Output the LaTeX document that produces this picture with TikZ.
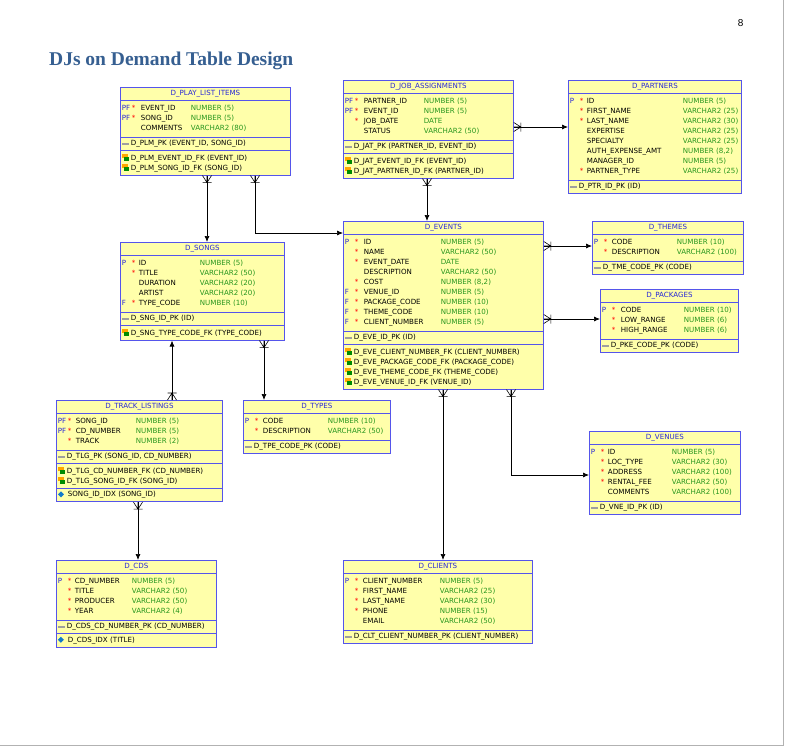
\documentclass[tikz,border=0pt]{standalone}
\usepackage{fontspec}
\setmainfont{DejaVu Sans}
\newfontfamily\titlefont{Liberation Serif}
\newfontfamily\numfont{Liberation Sans}
\usepackage{underscore}
\usetikzlibrary{shapes.multipart,arrows.meta,calc}
\definecolor{boxblue}{RGB}{85,85,235}
\definecolor{boxfill}{RGB}{255,255,170}
\definecolor{tyg}{RGB}{40,150,30}
\definecolor{ttlblue}{RGB}{40,40,215}
\definecolor{headblue}{RGB}{54,95,145}
\newcommand\ty[1]{\textcolor{tyg}{#1}}
\newcommand\fl[2]{\makebox[10pt][l]{\textcolor{ttlblue}{#1}}\textcolor{red}{#2}}
\newcommand\ttl[1]{\makebox[\linewidth][c]{\textcolor{ttlblue}{#1}}}
\newcommand\cols[2]{\begin{tabular}{@{}p{#1pt}@{}p{#2pt}@{}l@{}}}
\newcommand\ecols{\end{tabular}}
\newcommand\kic{\tikz[baseline=0pt]{\fill[gray!75] (0pt,0.5pt) rectangle (7pt,3pt);}\hspace{2pt}}
\newcommand\fkic{\tikz[baseline=0pt]{\fill[orange!70!yellow] (0pt,2.5pt) rectangle (6pt,6.5pt);\fill[green!55!black] (2pt,-1pt) rectangle (7pt,3pt);}\hspace{2pt}}
\newcommand\ixic{\tikz[baseline=0pt]{\fill[cyan!60!blue] (3pt,-0.5pt)--(6pt,2.5pt)--(3pt,5.5pt)--(0pt,2.5pt)--cycle;}\hspace{4pt}}
\tikzset{
  tbl/.style={rectangle split, rectangle split parts=#1, draw=boxblue, line width=0.8pt,
    fill=boxfill, anchor=north west, inner xsep=1.5pt, inner ysep=2.8pt,
    font=\fontsize{7.1}{10}\selectfont, align=left},
  conn/.style={line width=0.7pt},
  arr/.style={conn,-{Latex[length=6pt,width=5pt]}},
  crow/.pic={\draw[line width=0.6pt] (-4.5,0)--(0,7)--(4.5,0) (0,0)--(0,7) (-4.5,7)--(4.5,7);}
}
\begin{document}
\begin{tikzpicture}[x=1pt,y=-1pt]
\useasboundingbox (0,0) rectangle (796,747);
\fill[white] (0,0) rectangle (796,747);
\draw[gray!60] (783,0)--(783,745)--(0,745);
\node[anchor=east,font=\numfont\fontsize{10}{12}\selectfont] (pg) at (747,23) {8};
\node[anchor=west,font=\titlefont\bfseries\fontsize{19.5}{22}\selectfont,text=headblue,inner sep=0pt] (title) at (49,61) {DJs on Demand Table Design};

% tables
\node[tbl=4,text width=167pt] (pli) at (120,87) {\ttl{D_PLAY_LIST_ITEMS}
\nodepart{two}\cols{19}{50}\fl{PF}{*}&EVENT_ID&\ty{NUMBER (5)}\\ \fl{PF}{*}&SONG_ID&\ty{NUMBER (5)}\\ &COMMENTS&\ty{VARCHAR2 (80)}\ecols
\nodepart{three}\kic D_PLM_PK (EVENT_ID, SONG_ID)
\nodepart{four}\fkic D_PLM_EVENT_ID_FK (EVENT_ID)\\ \fkic D_PLM_SONG_ID_FK (SONG_ID)};

\node[tbl=4,text width=167pt] (ja) at (343,80) {\ttl{D_JOB_ASSIGNMENTS}
\nodepart{two}\cols{19}{60}\fl{PF}{*}&PARTNER_ID&\ty{NUMBER (5)}\\ \fl{PF}{*}&EVENT_ID&\ty{NUMBER (5)}\\ \fl{}{*}&JOB_DATE&\ty{DATE}\\ &STATUS&\ty{VARCHAR2 (50)}\ecols
\nodepart{three}\kic D_JAT_PK (PARTNER_ID, EVENT_ID)
\nodepart{four}\fkic D_JAT_EVENT_ID_FK (EVENT_ID)\\ \fkic D_JAT_PARTNER_ID_FK (PARTNER_ID)};

\node[tbl=3,text width=170pt] (ptr) at (568,80) {\ttl{D_PARTNERS}
\nodepart{two}\cols{17}{96}\fl{P}{*}&ID&\ty{NUMBER (5)}\\ \fl{}{*}&FIRST_NAME&\ty{VARCHAR2 (25)}\\ \fl{}{*}&LAST_NAME&\ty{VARCHAR2 (30)}\\ &EXPERTISE&\ty{VARCHAR2 (25)}\\ &SPECIALTY&\ty{VARCHAR2 (25)}\\ &AUTH_EXPENSE_AMT&\ty{NUMBER (8,2)}\\ &MANAGER_ID&\ty{NUMBER (5)}\\ \fl{}{*}&PARTNER_TYPE&\ty{VARCHAR2 (25)}\ecols
\nodepart{three}\kic D_PTR_ID_PK (ID)};

\node[tbl=4,text width=161pt] (sng) at (120,242) {\ttl{D_SONGS}
\nodepart{two}\cols{17}{61}\fl{P}{*}&ID&\ty{NUMBER (5)}\\ \fl{}{*}&TITLE&\ty{VARCHAR2 (50)}\\ &DURATION&\ty{VARCHAR2 (20)}\\ &ARTIST&\ty{VARCHAR2 (20)}\\ \fl{F}{*}&TYPE_CODE&\ty{NUMBER (10)}\ecols
\nodepart{three}\kic D_SNG_ID_PK (ID)
\nodepart{four}\fkic D_SNG_TYPE_CODE_FK (TYPE_CODE)};

\node[tbl=4,text width=197pt] (eve) at (343,221) {\ttl{D_EVENTS}
\nodepart{two}\cols{19}{77}\fl{P}{*}&ID&\ty{NUMBER (5)}\\ \fl{}{*}&NAME&\ty{VARCHAR2 (50)}\\ \fl{}{*}&EVENT_DATE&\ty{DATE}\\ &DESCRIPTION&\ty{VARCHAR2 (50)}\\ \fl{}{*}&COST&\ty{NUMBER (8,2)}\\ \fl{F}{*}&VENUE_ID&\ty{NUMBER (5)}\\ \fl{F}{*}&PACKAGE_CODE&\ty{NUMBER (10)}\\ \fl{F}{*}&THEME_CODE&\ty{NUMBER (10)}\\ \fl{F}{*}&CLIENT_NUMBER&\ty{NUMBER (5)}\ecols
\nodepart{three}\kic D_EVE_ID_PK (ID)
\nodepart{four}\fkic D_EVE_CLIENT_NUMBER_FK (CLIENT_NUMBER)\\ \fkic D_EVE_PACKAGE_CODE_FK (PACKAGE_CODE)\\ \fkic D_EVE_THEME_CODE_FK (THEME_CODE)\\ \fkic D_EVE_VENUE_ID_FK (VENUE_ID)};

\node[tbl=3,text width=148pt] (thm) at (592,221) {\ttl{D_THEMES}
\nodepart{two}\cols{18}{65}\fl{P}{*}&CODE&\ty{NUMBER (10)}\\ \fl{}{*}&DESCRIPTION&\ty{VARCHAR2 (100)}\ecols
\nodepart{three}\kic D_TME_CODE_PK (CODE)};

\node[tbl=3,text width=135pt] (pkg) at (600,289) {\ttl{D_PACKAGES}
\nodepart{two}\cols{19}{63}\fl{P}{*}&CODE&\ty{NUMBER (10)}\\ \fl{}{*}&LOW_RANGE&\ty{NUMBER (6)}\\ \fl{}{*}&HIGH_RANGE&\ty{NUMBER (6)}\ecols
\nodepart{three}\kic D_PKE_CODE_PK (CODE)};

\node[tbl=5,text width=163pt] (tlg) at (56,400) {\ttl{D_TRACK_LISTINGS}
\nodepart{two}\cols{18}{60}\fl{PF}{*}&SONG_ID&\ty{NUMBER (5)}\\ \fl{PF}{*}&CD_NUMBER&\ty{NUMBER (5)}\\ \fl{}{*}&TRACK&\ty{NUMBER (2)}\ecols
\nodepart{three}\kic D_TLG_PK (SONG_ID, CD_NUMBER)
\nodepart{four}\fkic D_TLG_CD_NUMBER_FK (CD_NUMBER)\\ \fkic D_TLG_SONG_ID_FK (SONG_ID)
\nodepart{five}\ixic SONG_ID_IDX (SONG_ID)};

\node[tbl=3,text width=144pt] (tpe) at (243,400) {\ttl{D_TYPES}
\nodepart{two}\cols{18}{65}\fl{P}{*}&CODE&\ty{NUMBER (10)}\\ \fl{}{*}&DESCRIPTION&\ty{VARCHAR2 (50)}\ecols
\nodepart{three}\kic D_TPE_CODE_PK (CODE)};

\node[tbl=3,text width=148pt] (vne) at (589,431) {\ttl{D_VENUES}
\nodepart{two}\cols{17}{64}\fl{P}{*}&ID&\ty{NUMBER (5)}\\ \fl{}{*}&LOC_TYPE&\ty{VARCHAR2 (30)}\\ \fl{}{*}&ADDRESS&\ty{VARCHAR2 (100)}\\ \fl{}{*}&RENTAL_FEE&\ty{VARCHAR2 (50)}\\ &COMMENTS&\ty{VARCHAR2 (100)}\ecols
\nodepart{three}\kic D_VNE_ID_PK (ID)};

\node[tbl=4,text width=157pt] (cds) at (56,560) {\ttl{D_CDS}
\nodepart{two}\cols{17}{57}\fl{P}{*}&CD_NUMBER&\ty{NUMBER (5)}\\ \fl{}{*}&TITLE&\ty{VARCHAR2 (50)}\\ \fl{}{*}&PRODUCER&\ty{VARCHAR2 (50)}\\ \fl{}{*}&YEAR&\ty{VARCHAR2 (4)}\ecols
\nodepart{three}\kic D_CDS_CD_NUMBER_PK (CD_NUMBER)
\nodepart{four}\ixic D_CDS_IDX (TITLE)};

\node[tbl=3,text width=186pt] (clt) at (343,560) {\ttl{D_CLIENTS}
\nodepart{two}\cols{18}{77}\fl{P}{*}&CLIENT_NUMBER&\ty{NUMBER (5)}\\ \fl{}{*}&FIRST_NAME&\ty{VARCHAR2 (25)}\\ \fl{}{*}&LAST_NAME&\ty{VARCHAR2 (30)}\\ \fl{}{*}&PHONE&\ty{NUMBER (15)}\\ &EMAIL&\ty{VARCHAR2 (50)}\ecols
\nodepart{three}\kic D_CLT_CLIENT_NUMBER_PK (CLIENT_NUMBER)};

% connectors
\coordinate (c1) at ([xshift=87pt]pli.south west);
\draw[arr] (c1) -- (c1 |- sng.north);
\pic at (c1) {crow};
\coordinate (c2) at ([xshift=135pt]pli.south west);
\coordinate (c2b) at (c2 |- 0,233);
\draw[arr] (c2) -- (c2b) -- (c2b -| eve.west);
\pic at (c2) {crow};
\coordinate (c3) at ([xshift=84pt]ja.south west);
\draw[arr] (c3) -- (c3 |- eve.north);
\pic at (c3) {crow};
\coordinate (c4) at (ja.east |- 0,127);
\draw[arr] (c4) -- (c4 -| ptr.west);
\pic[rotate=90] at (c4) {crow};
\coordinate (c5) at (eve.east |- 0,246);
\draw[arr] (c5) -- (c5 -| thm.west);
\pic[rotate=90] at (c5) {crow};
\coordinate (c6) at (eve.east |- 0,319);
\draw[arr] (c6) -- (c6 -| pkg.west);
\pic[rotate=90] at (c6) {crow};
\coordinate (c7) at ([xshift=168pt]eve.south west);
\coordinate (c7b) at (c7 |- 0,475);
\draw[arr] (c7) -- (c7b) -- (c7b -| vne.west);
\pic at (c7) {crow};
\coordinate (c8) at ([xshift=100pt]eve.south west);
\draw[arr] (c8) -- (c8 |- clt.north);
\pic at (c8) {crow};
\coordinate (c9) at ([xshift=144pt]sng.south west);
\draw[arr] (c9) -- (c9 |- tpe.north);
\pic at (c9) {crow};
\coordinate (c10) at ([xshift=116pt]tlg.north west);
\draw[arr] (c10) -- (c10 |- sng.south);
\pic[rotate=180] at (c10) {crow};
\coordinate (c11) at ([xshift=82pt]tlg.south west);
\draw[arr] (c11) -- (c11 |- cds.north);
\pic at (c11) {crow};
\end{tikzpicture}
\end{document}
